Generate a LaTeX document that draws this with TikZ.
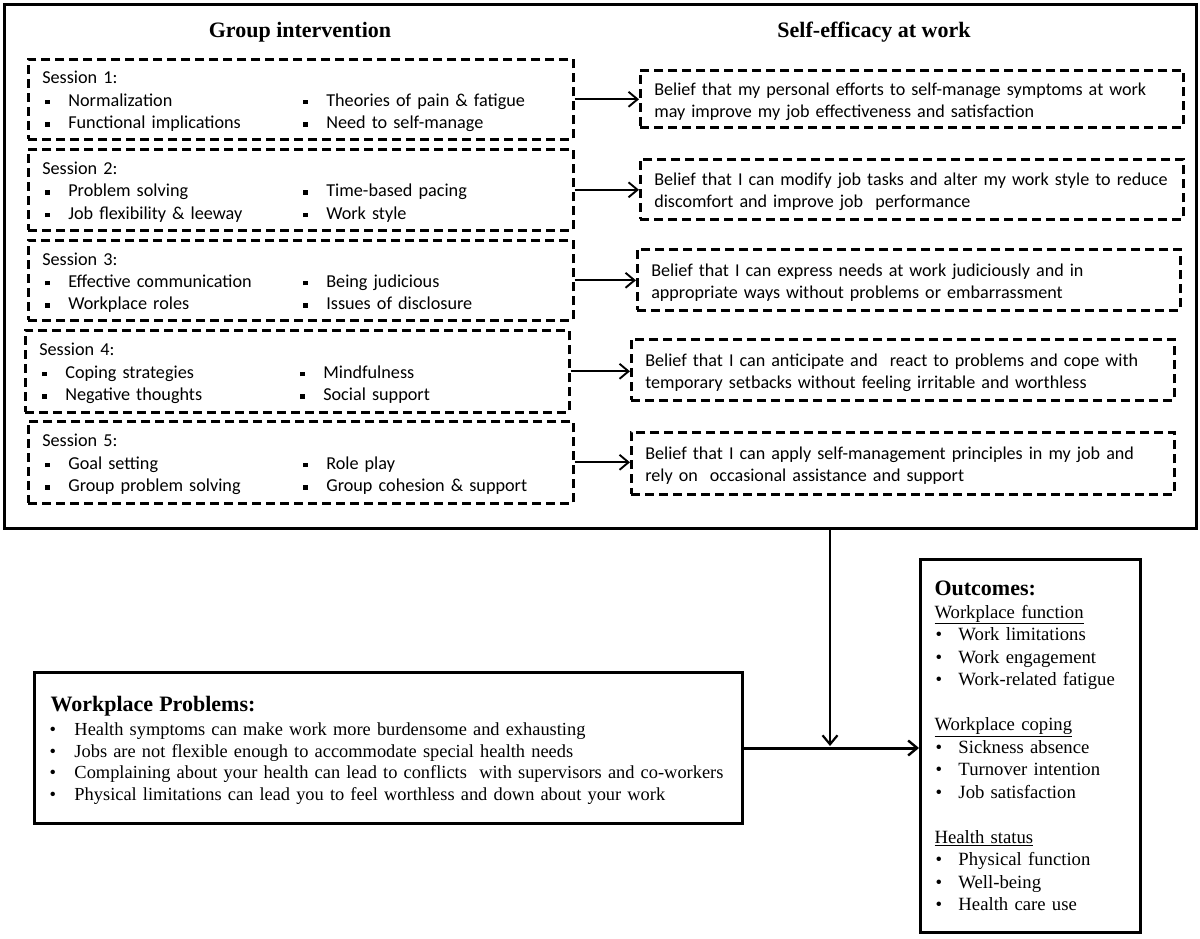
\documentclass[tikz,border=0pt]{standalone}
\usepackage{fontspec}
\setmainfont{Liberation Serif}
\newfontfamily\calfont{Carlito}
\usetikzlibrary{arrows.meta}
\newcommand\sqb{\rule[2pt]{4.5pt}{4.5pt}}
\newcommand\srow[2]{\mbox{\makebox[26pt][l]{\hspace*{3pt}\sqb}\makebox[235pt][l]{#1}\makebox[23pt][l]{\sqb}#2}}
\newcommand\wpb[1]{\mbox{\makebox[24pt][l]{\hspace*{-1pt}\textbullet}#1}}
\newcommand\ocb[1]{\mbox{\makebox[24pt][l]{\hspace*{1pt}\textbullet}#1}}
\newcommand\topstrut[1]{\rule{0pt}{#1}}
\tikzset{
  dbox/.style={draw, line width=2.6pt, dash pattern=on 9pt off 5pt, rectangle,
    inner xsep=14pt, inner ysep=0pt, anchor=north west, align=left,
    font=\calfont\fontsize{18.2}{22.3}\selectfont},
  bbox/.style={dbox, font=\calfont\fontsize{18.1}{22.3}\selectfont},
  sbox/.style={draw, line width=3pt, rectangle, inner ysep=0pt, anchor=north west, align=left},
  ttl/.style={font=\fontsize{22}{26}\selectfont\bfseries},
  arr/.style={line width=1.9pt, -{Straight Barb[length=9pt,width=15pt,line width=1.9pt]}},
}
\begin{document}
\begin{tikzpicture}[x=1pt,y=-1pt]
\useasboundingbox (0,0) rectangle (1200,939);
\node[draw, line width=3pt, minimum width=1192pt, minimum height=524pt, anchor=north west, inner sep=0pt] (outer) at (3,3) {};
\node[ttl] (t1) at (300,32) {Group intervention};
\node[ttl] (t2) at (874,32) {Self-efficacy at work};
% sessions
\node[dbox, minimum width=545pt, minimum height=80pt, text width=517pt] (s1) at (27,58)
 {\topstrut{17pt}Session 1:\\ \srow{Normalization}{Theories of pain \& fatigue}\\ \srow{Functional implications}{Need to self-manage}};
\node[dbox, minimum width=545pt, minimum height=81pt, text width=517pt] (s2) at (27,148)
 {\topstrut{17pt}Session 2:\\ \srow{Problem solving}{Time-based pacing}\\ \srow{Job flexibility \& leeway}{Work style}};
\node[dbox, minimum width=545pt, minimum height=80pt, text width=517pt] (s3) at (27,239)
 {\topstrut{17pt}Session 3:\\ \srow{Effective communication}{Being judicious}\\ \srow{Workplace roles}{Issues of disclosure}};
\node[dbox, minimum width=544pt, minimum height=82pt, text width=516pt] (s4) at (24,329)
 {\topstrut{17pt}Session 4:\\ \srow{Coping strategies}{Mindfulness}\\ \srow{Negative thoughts}{Social support}};
\node[dbox, minimum width=545pt, minimum height=82pt, text width=517pt] (s5) at (27,420)
 {\topstrut{17pt}Session 5:\\ \srow{Goal setting}{Role play}\\ \srow{Group problem solving}{Group cohesion \& support}};
% beliefs
\node[bbox, minimum width=543pt, minimum height=57pt, text width=515pt] (r1) at (639,69)
 {\topstrut{18pt}\mbox{Belief that my personal efforts to self-manage symptoms at work}\\ \mbox{may improve my job effectiveness and satisfaction}};
\node[bbox, minimum width=543pt, minimum height=60pt, text width=515pt] (r2) at (639,158)
 {\topstrut{18pt}\mbox{Belief that I can modify job tasks and alter my work style to reduce}\\ \mbox{discomfort and improve job\ \ performance}};
\node[bbox, minimum width=543pt, minimum height=61pt, text width=515pt] (r3) at (636,248)
 {\topstrut{18pt}\mbox{Belief that I can express needs at work judiciously and in}\\ \mbox{appropriate ways without problems or embarrassment}};
\node[bbox, minimum width=543pt, minimum height=61pt, text width=515pt] (r4) at (630,338)
 {\topstrut{18pt}\mbox{Belief that I can anticipate and\ \ react to problems and cope with}\\ \mbox{temporary setbacks without feeling irritable and worthless}};
\node[bbox, minimum width=543pt, minimum height=62pt, text width=515pt] (r5) at (630,431)
 {\topstrut{18pt}\mbox{Belief that I can apply self-management principles in my job and}\\ \mbox{rely on\ \ occasional assistance and support}};
\foreach \i in {1,...,5} {\draw[arr] (s\i.east) -- (s\i.east -| r\i.west);}
% bottom
\node[sbox, minimum width=708pt, minimum height=151pt, inner xsep=16pt, text width=676pt,
  font=\fontsize{18.4}{21.9}\selectfont] (wp) at (33,671)
 {\topstrut{20pt}{\fontsize{22}{24}\selectfont\bfseries Workplace Problems:}\\[2pt]
  \wpb{Health symptoms can make work more burdensome and exhausting}\\
  \wpb{Jobs are not flexible enough to accommodate special health needs}\\
  \wpb{Complaining about your health can lead to conflicts\ \ with supervisors and co-workers}\\
  \wpb{Physical limitations can lead you to feel worthless and down about your work}};
\node[sbox, minimum width=220pt, minimum height=373pt, inner xsep=14pt, text width=192pt,
  font=\fontsize{18.7}{22.5}\selectfont] (oc) at (919,558)
 {{\fontsize{22}{24}\selectfont\bfseries Outcomes:}\\
  \underline{Workplace function}\\
  \ocb{Work limitations}\\
  \ocb{Work engagement}\\
  \ocb{Work-related fatigue}\\[22.5pt]
  \underline{Workplace coping}\\
  \ocb{Sickness absence}\\
  \ocb{Turnover intention}\\
  \ocb{Job satisfaction}\\[22.5pt]
  \underline{Health status}\\
  \ocb{Physical function}\\
  \ocb{Well-being}\\
  \ocb{Health care use}};
\path (wp.east) ++(86,0) coordinate (j);
\draw[line width=2.2pt, -{Straight Barb[length=9pt,width=15pt,line width=2.2pt]}] (outer.south -| j) -- ([yshift=2pt]j);
\draw[line width=3pt, -{Straight Barb[length=9pt,width=15pt,line width=2.4pt]}] (wp.east) -- (wp.east -| oc.west);
\end{tikzpicture}
\end{document}
